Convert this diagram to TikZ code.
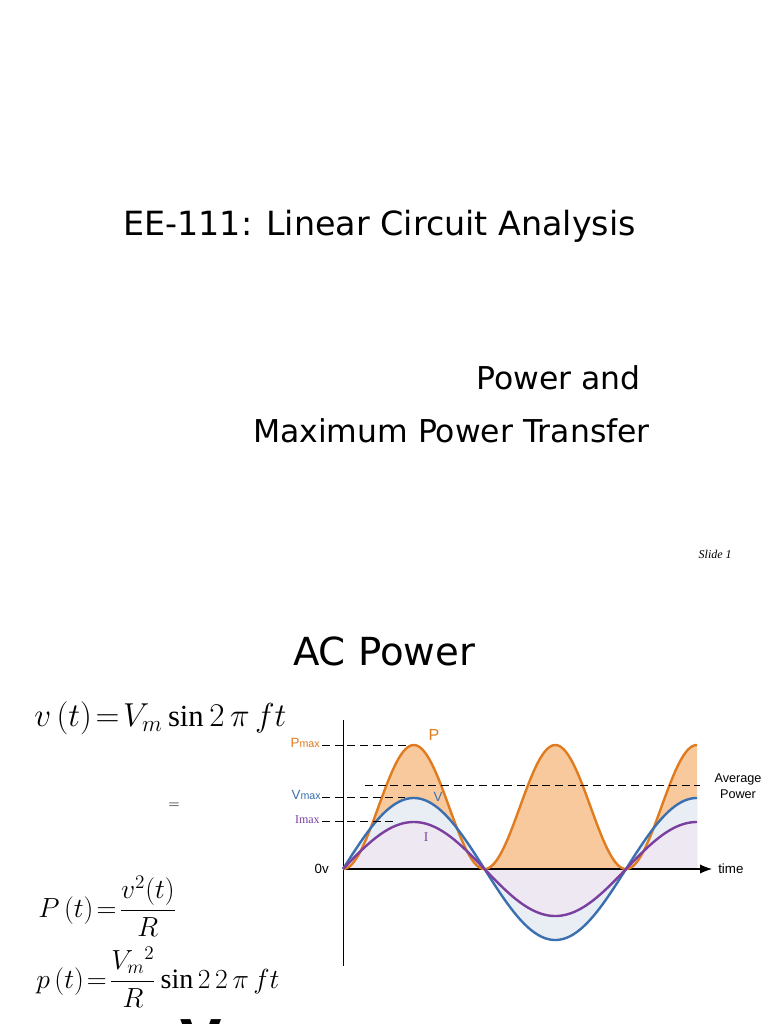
\documentclass[tikz,border=0pt]{standalone}
\usepackage{fontspec}
\setmainfont{DejaVu Sans}
\newfontfamily\serifit{Liberation Serif}
\newfontfamily\serifup{Liberation Serif}
\newfontfamily\arialf{Liberation Sans}
\newcommand\msin{\,\mbox{\serifup sin}\,}
\usetikzlibrary{arrows.meta}
\begin{document}
\begin{tikzpicture}[x=0.75pt,y=-0.75pt,
  lbl/.style={font=\arialf\fontsize{10}{12}\selectfont, inner sep=0pt},
  ldash/.style={dash pattern=on 6pt off 3.5pt,line width=0.7pt}]
\definecolor{Pc}{HTML}{E07B20}
\definecolor{Vc}{HTML}{3A6FB0}
\definecolor{Ic}{HTML}{7B3FA0}
\definecolor{Pf}{HTML}{F8C99C}
\definecolor{Vf}{HTML}{E9EEF5}
\definecolor{If}{HTML}{EEE8F3}
\useasboundingbox (0,0) rectangle (768,1024);
\fill[white] (0,0) rectangle (768,1024);
% slide 1
\node[anchor=west,inner sep=0pt,font=\fontsize{25}{30}\selectfont] (title) at (123,226) {EE-111: Linear Circuit Analysis};
\node[anchor=east,inner sep=0pt,font=\fontsize{23.6}{28}\selectfont] (pa) at (641,378) {Power and};
\node[anchor=east,inner sep=0pt,font=\fontsize{23.6}{28}\selectfont] (mpt) at (650,431) {Maximum Power Transfer};
\node[anchor=east,inner sep=0pt,font=\serifit\itshape\fontsize{9}{11}\selectfont] (sl) at (732,554) {Slide 1};
% slide 2
\node[inner sep=0pt,font=\fontsize{29}{34}\selectfont] (ac) at (384,651) {AC Power};
% graph fills
\fill[Pf] plot[domain=343:697,samples=200] (\x,{869-124*(sin(1.272*(\x-343)))^2}) -- (697,869) -- cycle;
\fill[Vf] plot[domain=343:697,samples=200] (\x,{869-71*sin(1.272*(\x-343))}) -- (697,869) -- cycle;
\fill[If] plot[domain=343:697,samples=200] (\x,{869-47*sin(1.272*(\x-343))}) -- (697,869) -- cycle;
% axes
\coordinate (o) at (343,869);
\coordinate (xe) at (712,869);
\draw[line width=0.6pt] (343,720) -- (343,966);
\draw[line width=0.8pt,-{Latex[length=9pt,width=7pt]}] (o) -- (xe);
% curves
\draw[Pc,line width=1.8pt] plot[domain=343:697,samples=200] (\x,{869-124*(sin(1.272*(\x-343)))^2});
\draw[Vc,line width=1.8pt] plot[domain=343:697,samples=200] (\x,{869-71*sin(1.272*(\x-343))});
\draw[Ic,line width=1.8pt] plot[domain=343:697,samples=200] (\x,{869-47*sin(1.272*(\x-343))});
% dashed
\draw[ldash] (365,785) -- (700,785);
\draw[ldash] (322,745) -- (408,745);
\draw[ldash] (322,797) -- (405,797);
\draw[ldash] (322,821) -- (398,821);
% labels
\node[lbl,anchor=east,text=Pc] (pm) at (320,743) {P\fontsize{8}{10}\selectfont max};
\node[lbl,anchor=east,text=Vc] (vm) at (321,795) {V\fontsize{8}{10}\selectfont max};
\node[lbl,anchor=east,text=Ic,font=\serifit\fontsize{9}{11}\selectfont] (im) at (320,820) {Imax};
\node[lbl,anchor=east] (zv) at (329,869) {0v};
\node[lbl,text=Pc,font=\arialf\fontsize{12}{14}\selectfont] (P) at (434,735) {P};
\node[lbl,text=Vc] (V) at (438,797) {V};
\node[lbl,text=Ic,font=\serifit\fontsize{10}{12}\selectfont] (I) at (426,837) {I};
\node[lbl,align=center,font=\arialf\fontsize{9.5}{12}\selectfont] (avg) at (738,786) {Average\\Power};
\node[lbl,anchor=west] (time) at (718,869) {time};
% equations
\node[anchor=west,inner sep=0pt,font=\serifup\fontsize{23}{27}\selectfont] (e1) at (34,718) {$v\,(t)\!=\!V_m\msin2\,\pi\,ft$};
\node[inner sep=0pt,font=\fontsize{11}{13}\selectfont] (eq) at (174,806) {$=$};
\node[anchor=west,inner sep=0pt,font=\serifup\fontsize{21}{25}\selectfont] (e2) at (38,906) {$\displaystyle P\,(t)\!=\!\frac{v^2(t)}{R}$};
\node[anchor=west,inner sep=0pt,font=\serifup\fontsize{21}{25}\selectfont] (e3) at (36,977) {$\displaystyle p\,(t)\!=\!\frac{V_m{}^2}{R}\msin2\,2\,\pi\,ft$};
\node[anchor=west,inner sep=0pt,font=\fontsize{40}{44}\selectfont] (e4) at (180,1042) {$\mathbf{V}_m{}^2$};
\end{tikzpicture}
\end{document}
